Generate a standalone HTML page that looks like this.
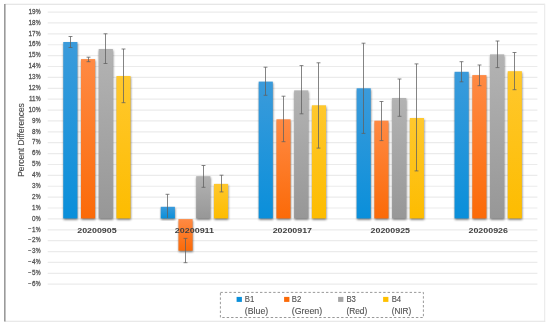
<!DOCTYPE html>
<html><head><meta charset="utf-8"><title>Percent Differences</title>
<style>
html,body{margin:0;padding:0;background:#fff;}
body{width:550px;height:327px;overflow:hidden;font-family:"Liberation Sans",sans-serif;}
svg{display:block}
text{font-family:"Liberation Sans",sans-serif;}
</style></head><body>
<svg width="550" height="327" viewBox="0 0 550 327">
<defs>
<linearGradient id="b" x1="0" y1="0" x2="0" y2="1"><stop offset="0" stop-color="#3b9bdb"/><stop offset="1" stop-color="#0a8fda"/></linearGradient>
<linearGradient id="o" x1="0" y1="0" x2="0" y2="1"><stop offset="0" stop-color="#ff8a44"/><stop offset="1" stop-color="#fb6a08"/></linearGradient>
<linearGradient id="g" x1="0" y1="0" x2="0" y2="1"><stop offset="0" stop-color="#b3b3b3"/><stop offset="1" stop-color="#979797"/></linearGradient>
<linearGradient id="y" x1="0" y1="0" x2="0" y2="1"><stop offset="0" stop-color="#ffc82e"/><stop offset="1" stop-color="#fdbc00"/></linearGradient>
<filter id="sh" x="-30%" y="-10%" width="160%" height="120%"><feGaussianBlur stdDeviation="0.8"/></filter>
</defs>
<rect x="0" y="0" width="550" height="327" fill="#fff"/>
<path d="M4.7 4.3H544.7" stroke="#dedede" stroke-width="1.1" fill="none"/>
<path d="M544.7 3.8V321.8" stroke="#e9e9e9" stroke-width="1.1" fill="none"/>
<path d="M4.7 321.3H545.2" stroke="#e2e2e2" stroke-width="1.1" fill="none"/>
<rect x="4" y="4" width="1.6" height="317.5" fill="#9a9a9a"/>

<line x1="47.7" x2="537.4" y1="284.21" y2="284.21" stroke="#ebebeb" stroke-width="1.2"/>
<line x1="47.7" x2="537.4" y1="273.32" y2="273.32" stroke="#ebebeb" stroke-width="1.2"/>
<line x1="47.7" x2="537.4" y1="262.44" y2="262.44" stroke="#ebebeb" stroke-width="1.2"/>
<line x1="47.7" x2="537.4" y1="251.56" y2="251.56" stroke="#ebebeb" stroke-width="1.2"/>
<line x1="47.7" x2="537.4" y1="240.67" y2="240.67" stroke="#ebebeb" stroke-width="1.2"/>
<line x1="47.7" x2="537.4" y1="229.78" y2="229.78" stroke="#ebebeb" stroke-width="1.2"/>
<line x1="47.7" x2="537.4" y1="218.90" y2="218.90" stroke="#ebebeb" stroke-width="1.2"/>
<line x1="47.7" x2="537.4" y1="208.02" y2="208.02" stroke="#ebebeb" stroke-width="1.2"/>
<line x1="47.7" x2="537.4" y1="197.13" y2="197.13" stroke="#ebebeb" stroke-width="1.2"/>
<line x1="47.7" x2="537.4" y1="186.25" y2="186.25" stroke="#ebebeb" stroke-width="1.2"/>
<line x1="47.7" x2="537.4" y1="175.36" y2="175.36" stroke="#ebebeb" stroke-width="1.2"/>
<line x1="47.7" x2="537.4" y1="164.48" y2="164.48" stroke="#ebebeb" stroke-width="1.2"/>
<line x1="47.7" x2="537.4" y1="153.59" y2="153.59" stroke="#ebebeb" stroke-width="1.2"/>
<line x1="47.7" x2="537.4" y1="142.71" y2="142.71" stroke="#ebebeb" stroke-width="1.2"/>
<line x1="47.7" x2="537.4" y1="131.82" y2="131.82" stroke="#ebebeb" stroke-width="1.2"/>
<line x1="47.7" x2="537.4" y1="120.94" y2="120.94" stroke="#ebebeb" stroke-width="1.2"/>
<line x1="47.7" x2="537.4" y1="110.05" y2="110.05" stroke="#ebebeb" stroke-width="1.2"/>
<line x1="47.7" x2="537.4" y1="99.17" y2="99.17" stroke="#ebebeb" stroke-width="1.2"/>
<line x1="47.7" x2="537.4" y1="88.28" y2="88.28" stroke="#ebebeb" stroke-width="1.2"/>
<line x1="47.7" x2="537.4" y1="77.40" y2="77.40" stroke="#ebebeb" stroke-width="1.2"/>
<line x1="47.7" x2="537.4" y1="66.51" y2="66.51" stroke="#ebebeb" stroke-width="1.2"/>
<line x1="47.7" x2="537.4" y1="55.62" y2="55.62" stroke="#ebebeb" stroke-width="1.2"/>
<line x1="47.7" x2="537.4" y1="44.74" y2="44.74" stroke="#ebebeb" stroke-width="1.2"/>
<line x1="47.7" x2="537.4" y1="33.86" y2="33.86" stroke="#ebebeb" stroke-width="1.2"/>
<line x1="47.7" x2="537.4" y1="22.97" y2="22.97" stroke="#ebebeb" stroke-width="1.2"/>
<line x1="47.7" x2="537.4" y1="12.09" y2="12.09" stroke="#ebebeb" stroke-width="1.2"/>
<text transform="translate(35.6,285.96) scale(0.92,1)" font-size="7" fill="#505050" stroke="#505050" stroke-width="0.25" text-anchor="end"><tspan font-size="5.6" dy="-1.1">–</tspan><tspan dx="0.9" dy="1.1">6</tspan></text>
<text transform="translate(40.5,285.96) scale(0.78,1)" font-size="7" fill="#505050" stroke="#505050" stroke-width="0.25" text-anchor="end">%</text>
<text transform="translate(35.6,275.07) scale(0.92,1)" font-size="7" fill="#505050" stroke="#505050" stroke-width="0.25" text-anchor="end"><tspan font-size="5.6" dy="-1.1">–</tspan><tspan dx="0.9" dy="1.1">5</tspan></text>
<text transform="translate(40.5,275.07) scale(0.78,1)" font-size="7" fill="#505050" stroke="#505050" stroke-width="0.25" text-anchor="end">%</text>
<text transform="translate(35.6,264.19) scale(0.92,1)" font-size="7" fill="#505050" stroke="#505050" stroke-width="0.25" text-anchor="end"><tspan font-size="5.6" dy="-1.1">–</tspan><tspan dx="0.9" dy="1.1">4</tspan></text>
<text transform="translate(40.5,264.19) scale(0.78,1)" font-size="7" fill="#505050" stroke="#505050" stroke-width="0.25" text-anchor="end">%</text>
<text transform="translate(35.6,253.31) scale(0.92,1)" font-size="7" fill="#505050" stroke="#505050" stroke-width="0.25" text-anchor="end"><tspan font-size="5.6" dy="-1.1">–</tspan><tspan dx="0.9" dy="1.1">3</tspan></text>
<text transform="translate(40.5,253.31) scale(0.78,1)" font-size="7" fill="#505050" stroke="#505050" stroke-width="0.25" text-anchor="end">%</text>
<text transform="translate(35.6,242.42) scale(0.92,1)" font-size="7" fill="#505050" stroke="#505050" stroke-width="0.25" text-anchor="end"><tspan font-size="5.6" dy="-1.1">–</tspan><tspan dx="0.9" dy="1.1">2</tspan></text>
<text transform="translate(40.5,242.42) scale(0.78,1)" font-size="7" fill="#505050" stroke="#505050" stroke-width="0.25" text-anchor="end">%</text>
<text transform="translate(35.6,231.53) scale(0.92,1)" font-size="7" fill="#505050" stroke="#505050" stroke-width="0.25" text-anchor="end"><tspan font-size="5.6" dy="-1.1">–</tspan><tspan dx="0.9" dy="1.1">1</tspan></text>
<text transform="translate(40.5,231.53) scale(0.78,1)" font-size="7" fill="#505050" stroke="#505050" stroke-width="0.25" text-anchor="end">%</text>
<text transform="translate(35.6,220.65) scale(0.92,1)" font-size="7" fill="#505050" stroke="#505050" stroke-width="0.25" text-anchor="end">0</text>
<text transform="translate(40.5,220.65) scale(0.78,1)" font-size="7" fill="#505050" stroke="#505050" stroke-width="0.25" text-anchor="end">%</text>
<text transform="translate(35.6,209.77) scale(0.92,1)" font-size="7" fill="#505050" stroke="#505050" stroke-width="0.25" text-anchor="end">1</text>
<text transform="translate(40.5,209.77) scale(0.78,1)" font-size="7" fill="#505050" stroke="#505050" stroke-width="0.25" text-anchor="end">%</text>
<text transform="translate(35.6,198.88) scale(0.92,1)" font-size="7" fill="#505050" stroke="#505050" stroke-width="0.25" text-anchor="end">2</text>
<text transform="translate(40.5,198.88) scale(0.78,1)" font-size="7" fill="#505050" stroke="#505050" stroke-width="0.25" text-anchor="end">%</text>
<text transform="translate(35.6,188.00) scale(0.92,1)" font-size="7" fill="#505050" stroke="#505050" stroke-width="0.25" text-anchor="end">3</text>
<text transform="translate(40.5,188.00) scale(0.78,1)" font-size="7" fill="#505050" stroke="#505050" stroke-width="0.25" text-anchor="end">%</text>
<text transform="translate(35.6,177.11) scale(0.92,1)" font-size="7" fill="#505050" stroke="#505050" stroke-width="0.25" text-anchor="end">4</text>
<text transform="translate(40.5,177.11) scale(0.78,1)" font-size="7" fill="#505050" stroke="#505050" stroke-width="0.25" text-anchor="end">%</text>
<text transform="translate(35.6,166.23) scale(0.92,1)" font-size="7" fill="#505050" stroke="#505050" stroke-width="0.25" text-anchor="end">5</text>
<text transform="translate(40.5,166.23) scale(0.78,1)" font-size="7" fill="#505050" stroke="#505050" stroke-width="0.25" text-anchor="end">%</text>
<text transform="translate(35.6,155.34) scale(0.92,1)" font-size="7" fill="#505050" stroke="#505050" stroke-width="0.25" text-anchor="end">6</text>
<text transform="translate(40.5,155.34) scale(0.78,1)" font-size="7" fill="#505050" stroke="#505050" stroke-width="0.25" text-anchor="end">%</text>
<text transform="translate(35.6,144.46) scale(0.92,1)" font-size="7" fill="#505050" stroke="#505050" stroke-width="0.25" text-anchor="end">7</text>
<text transform="translate(40.5,144.46) scale(0.78,1)" font-size="7" fill="#505050" stroke="#505050" stroke-width="0.25" text-anchor="end">%</text>
<text transform="translate(35.6,133.57) scale(0.92,1)" font-size="7" fill="#505050" stroke="#505050" stroke-width="0.25" text-anchor="end">8</text>
<text transform="translate(40.5,133.57) scale(0.78,1)" font-size="7" fill="#505050" stroke="#505050" stroke-width="0.25" text-anchor="end">%</text>
<text transform="translate(35.6,122.69) scale(0.92,1)" font-size="7" fill="#505050" stroke="#505050" stroke-width="0.25" text-anchor="end">9</text>
<text transform="translate(40.5,122.69) scale(0.78,1)" font-size="7" fill="#505050" stroke="#505050" stroke-width="0.25" text-anchor="end">%</text>
<text transform="translate(35.6,111.80) scale(0.92,1)" font-size="7" fill="#505050" stroke="#505050" stroke-width="0.25" text-anchor="end">10</text>
<text transform="translate(40.5,111.80) scale(0.78,1)" font-size="7" fill="#505050" stroke="#505050" stroke-width="0.25" text-anchor="end">%</text>
<text transform="translate(35.6,100.92) scale(0.92,1)" font-size="7" fill="#505050" stroke="#505050" stroke-width="0.25" text-anchor="end">11</text>
<text transform="translate(40.5,100.92) scale(0.78,1)" font-size="7" fill="#505050" stroke="#505050" stroke-width="0.25" text-anchor="end">%</text>
<text transform="translate(35.6,90.03) scale(0.92,1)" font-size="7" fill="#505050" stroke="#505050" stroke-width="0.25" text-anchor="end">12</text>
<text transform="translate(40.5,90.03) scale(0.78,1)" font-size="7" fill="#505050" stroke="#505050" stroke-width="0.25" text-anchor="end">%</text>
<text transform="translate(35.6,79.15) scale(0.92,1)" font-size="7" fill="#505050" stroke="#505050" stroke-width="0.25" text-anchor="end">13</text>
<text transform="translate(40.5,79.15) scale(0.78,1)" font-size="7" fill="#505050" stroke="#505050" stroke-width="0.25" text-anchor="end">%</text>
<text transform="translate(35.6,68.26) scale(0.92,1)" font-size="7" fill="#505050" stroke="#505050" stroke-width="0.25" text-anchor="end">14</text>
<text transform="translate(40.5,68.26) scale(0.78,1)" font-size="7" fill="#505050" stroke="#505050" stroke-width="0.25" text-anchor="end">%</text>
<text transform="translate(35.6,57.38) scale(0.92,1)" font-size="7" fill="#505050" stroke="#505050" stroke-width="0.25" text-anchor="end">15</text>
<text transform="translate(40.5,57.38) scale(0.78,1)" font-size="7" fill="#505050" stroke="#505050" stroke-width="0.25" text-anchor="end">%</text>
<text transform="translate(35.6,46.49) scale(0.92,1)" font-size="7" fill="#505050" stroke="#505050" stroke-width="0.25" text-anchor="end">16</text>
<text transform="translate(40.5,46.49) scale(0.78,1)" font-size="7" fill="#505050" stroke="#505050" stroke-width="0.25" text-anchor="end">%</text>
<text transform="translate(35.6,35.61) scale(0.92,1)" font-size="7" fill="#505050" stroke="#505050" stroke-width="0.25" text-anchor="end">17</text>
<text transform="translate(40.5,35.61) scale(0.78,1)" font-size="7" fill="#505050" stroke="#505050" stroke-width="0.25" text-anchor="end">%</text>
<text transform="translate(35.6,24.72) scale(0.92,1)" font-size="7" fill="#505050" stroke="#505050" stroke-width="0.25" text-anchor="end">18</text>
<text transform="translate(40.5,24.72) scale(0.78,1)" font-size="7" fill="#505050" stroke="#505050" stroke-width="0.25" text-anchor="end">%</text>
<text transform="translate(35.6,13.84) scale(0.92,1)" font-size="7" fill="#505050" stroke="#505050" stroke-width="0.25" text-anchor="end">19</text>
<text transform="translate(40.5,13.84) scale(0.78,1)" font-size="7" fill="#505050" stroke="#505050" stroke-width="0.25" text-anchor="end">%</text>
<text transform="translate(23.5,140) rotate(-90)" font-size="8.8" fill="#505050" stroke="#505050" stroke-width="0.15" text-anchor="middle" textLength="73.6" lengthAdjust="spacingAndGlyphs">Percent Differences</text>
<rect x="63.60" y="43.35" width="14.15" height="176.45" fill="#000" opacity="0.5" filter="url(#sh)"/>
<rect x="63.25" y="42.00" width="14.15" height="176.45" fill="url(#b)"/>
<rect x="81.33" y="60.45" width="14.15" height="159.35" fill="#000" opacity="0.5" filter="url(#sh)"/>
<rect x="80.98" y="59.10" width="14.15" height="159.35" fill="url(#o)"/>
<rect x="99.06" y="50.35" width="14.15" height="169.45" fill="#000" opacity="0.5" filter="url(#sh)"/>
<rect x="98.71" y="49.00" width="14.15" height="169.45" fill="url(#g)"/>
<rect x="116.79" y="77.35" width="14.15" height="142.45" fill="#000" opacity="0.5" filter="url(#sh)"/>
<rect x="116.44" y="76.00" width="14.15" height="142.45" fill="url(#y)"/>
<rect x="161.09" y="208.15" width="14.15" height="11.65" fill="#000" opacity="0.5" filter="url(#sh)"/>
<rect x="160.74" y="206.80" width="14.15" height="11.65" fill="url(#b)"/>
<rect x="178.82" y="220.45" width="14.15" height="31.60" fill="#000" opacity="0.5" filter="url(#sh)"/>
<rect x="178.47" y="219.10" width="14.15" height="31.60" fill="url(#o)"/>
<rect x="196.55" y="177.55" width="14.15" height="42.25" fill="#000" opacity="0.5" filter="url(#sh)"/>
<rect x="196.20" y="176.20" width="14.15" height="42.25" fill="url(#g)"/>
<rect x="214.28" y="185.25" width="14.15" height="34.55" fill="#000" opacity="0.5" filter="url(#sh)"/>
<rect x="213.93" y="183.90" width="14.15" height="34.55" fill="url(#y)"/>
<rect x="259.03" y="82.95" width="14.15" height="136.85" fill="#000" opacity="0.5" filter="url(#sh)"/>
<rect x="258.68" y="81.60" width="14.15" height="136.85" fill="url(#b)"/>
<rect x="276.76" y="120.65" width="14.15" height="99.15" fill="#000" opacity="0.5" filter="url(#sh)"/>
<rect x="276.41" y="119.30" width="14.15" height="99.15" fill="url(#o)"/>
<rect x="294.49" y="91.75" width="14.15" height="128.05" fill="#000" opacity="0.5" filter="url(#sh)"/>
<rect x="294.14" y="90.40" width="14.15" height="128.05" fill="url(#g)"/>
<rect x="312.22" y="106.65" width="14.15" height="113.15" fill="#000" opacity="0.5" filter="url(#sh)"/>
<rect x="311.87" y="105.30" width="14.15" height="113.15" fill="url(#y)"/>
<rect x="356.97" y="89.65" width="14.15" height="130.15" fill="#000" opacity="0.5" filter="url(#sh)"/>
<rect x="356.62" y="88.30" width="14.15" height="130.15" fill="url(#b)"/>
<rect x="374.70" y="122.05" width="14.15" height="97.75" fill="#000" opacity="0.5" filter="url(#sh)"/>
<rect x="374.35" y="120.70" width="14.15" height="97.75" fill="url(#o)"/>
<rect x="392.43" y="99.35" width="14.15" height="120.45" fill="#000" opacity="0.5" filter="url(#sh)"/>
<rect x="392.08" y="98.00" width="14.15" height="120.45" fill="url(#g)"/>
<rect x="410.16" y="119.35" width="14.15" height="100.45" fill="#000" opacity="0.5" filter="url(#sh)"/>
<rect x="409.81" y="118.00" width="14.15" height="100.45" fill="url(#y)"/>
<rect x="454.91" y="73.15" width="14.15" height="146.65" fill="#000" opacity="0.5" filter="url(#sh)"/>
<rect x="454.56" y="71.80" width="14.15" height="146.65" fill="url(#b)"/>
<rect x="472.64" y="76.45" width="14.15" height="143.35" fill="#000" opacity="0.5" filter="url(#sh)"/>
<rect x="472.29" y="75.10" width="14.15" height="143.35" fill="url(#o)"/>
<rect x="490.37" y="55.75" width="14.15" height="164.05" fill="#000" opacity="0.5" filter="url(#sh)"/>
<rect x="490.02" y="54.40" width="14.15" height="164.05" fill="url(#g)"/>
<rect x="508.10" y="72.55" width="14.15" height="147.25" fill="#000" opacity="0.5" filter="url(#sh)"/>
<rect x="507.75" y="71.20" width="14.15" height="147.25" fill="url(#y)"/>
<path d="M70.50 36.50V47.50M68.55 36.50h3.9M68.55 47.50h3.9" stroke="#606060" stroke-width="0.78" fill="none"/>
<path d="M88.50 57.20V61.70M86.55 57.20h3.9M86.55 61.70h3.9" stroke="#606060" stroke-width="0.78" fill="none"/>
<path d="M105.50 33.80V63.50M103.55 33.80h3.9M103.55 63.50h3.9" stroke="#606060" stroke-width="0.78" fill="none"/>
<path d="M123.50 49.00V102.70M121.55 49.00h3.9M121.55 102.70h3.9" stroke="#606060" stroke-width="0.78" fill="none"/>
<path d="M167.50 194.30V217.90M165.55 194.30h3.9" stroke="#606060" stroke-width="0.78" fill="none"/>
<path d="M185.50 238.40V262.70M183.55 238.40h3.9M183.55 262.70h3.9" stroke="#606060" stroke-width="0.78" fill="none"/>
<path d="M203.50 165.50V187.30M201.55 165.50h3.9M201.55 187.30h3.9" stroke="#606060" stroke-width="0.78" fill="none"/>
<path d="M221.50 175.20V191.90M219.55 175.20h3.9M219.55 191.90h3.9" stroke="#606060" stroke-width="0.78" fill="none"/>
<path d="M265.50 67.20V95.30M263.55 67.20h3.9M263.55 95.30h3.9" stroke="#606060" stroke-width="0.78" fill="none"/>
<path d="M283.50 96.20V141.70M281.55 96.20h3.9M281.55 141.70h3.9" stroke="#606060" stroke-width="0.78" fill="none"/>
<path d="M301.50 65.60V113.80M299.55 65.60h3.9M299.55 113.80h3.9" stroke="#606060" stroke-width="0.78" fill="none"/>
<path d="M318.50 62.80V148.10M316.55 62.80h3.9M316.55 148.10h3.9" stroke="#606060" stroke-width="0.78" fill="none"/>
<path d="M363.50 43.20V133.40M361.55 43.20h3.9M361.55 133.40h3.9" stroke="#606060" stroke-width="0.78" fill="none"/>
<path d="M381.50 101.50V140.60M379.55 101.50h3.9M379.55 140.60h3.9" stroke="#606060" stroke-width="0.78" fill="none"/>
<path d="M399.50 79.00V116.30M397.55 79.00h3.9M397.55 116.30h3.9" stroke="#606060" stroke-width="0.78" fill="none"/>
<path d="M416.50 63.90V170.90M414.55 63.90h3.9M414.55 170.90h3.9" stroke="#606060" stroke-width="0.78" fill="none"/>
<path d="M461.50 61.70V81.80M459.55 61.70h3.9M459.55 81.80h3.9" stroke="#606060" stroke-width="0.78" fill="none"/>
<path d="M479.50 65.00V85.70M477.55 65.00h3.9M477.55 85.70h3.9" stroke="#606060" stroke-width="0.78" fill="none"/>
<path d="M497.50 41.00V67.60M495.55 41.00h3.9M495.55 67.60h3.9" stroke="#606060" stroke-width="0.78" fill="none"/>
<path d="M514.50 52.50V89.70M512.55 52.50h3.9M512.55 89.70h3.9" stroke="#606060" stroke-width="0.78" fill="none"/>
<text x="96.92" y="233.2" font-size="8" font-weight="bold" fill="#404040" text-anchor="middle" textLength="39.4" lengthAdjust="spacingAndGlyphs">20200905</text>
<text x="194.41" y="233.2" font-size="8" font-weight="bold" fill="#404040" text-anchor="middle" textLength="39.4" lengthAdjust="spacingAndGlyphs">20200911</text>
<text x="292.35" y="233.2" font-size="8" font-weight="bold" fill="#404040" text-anchor="middle" textLength="39.4" lengthAdjust="spacingAndGlyphs">20200917</text>
<text x="390.29" y="233.2" font-size="8" font-weight="bold" fill="#404040" text-anchor="middle" textLength="39.4" lengthAdjust="spacingAndGlyphs">20200925</text>
<text x="488.23" y="233.2" font-size="8" font-weight="bold" fill="#404040" text-anchor="middle" textLength="39.4" lengthAdjust="spacingAndGlyphs">20200926</text>
<rect x="220.4" y="292.4" width="203" height="25.1" fill="none" stroke="#7f7f7f" stroke-width="0.8" stroke-dasharray="2.4 2"/>
<rect x="236.6" y="296.9" width="5.3" height="5" fill="#0a8fda"/>
<text x="244.8" y="301.8" font-size="8.7" fill="#505050" stroke="#505050" stroke-width="0.12" textLength="9.5" lengthAdjust="spacingAndGlyphs">B1</text>
<text x="244.8" y="313.8" font-size="8.7" fill="#505050" stroke="#505050" stroke-width="0.12" textLength="23.4" lengthAdjust="spacingAndGlyphs">(Blue)</text>
<rect x="284.1" y="296.9" width="5.3" height="5" fill="#fb6a08"/>
<text x="291.8" y="301.8" font-size="8.7" fill="#505050" stroke="#505050" stroke-width="0.12" textLength="9.5" lengthAdjust="spacingAndGlyphs">B2</text>
<text x="291.8" y="313.8" font-size="8.7" fill="#505050" stroke="#505050" stroke-width="0.12" textLength="30.4" lengthAdjust="spacingAndGlyphs">(Green)</text>
<rect x="338.1" y="296.9" width="5.3" height="5" fill="#a5a5a5"/>
<text x="346.4" y="301.8" font-size="8.7" fill="#505050" stroke="#505050" stroke-width="0.12" textLength="9.5" lengthAdjust="spacingAndGlyphs">B3</text>
<text x="346.4" y="313.8" font-size="8.7" fill="#505050" stroke="#505050" stroke-width="0.12" textLength="20.8" lengthAdjust="spacingAndGlyphs">(Red)</text>
<rect x="383.1" y="296.9" width="5.3" height="5" fill="#ffc000"/>
<text x="391.7" y="301.8" font-size="8.7" fill="#505050" stroke="#505050" stroke-width="0.12" textLength="9.5" lengthAdjust="spacingAndGlyphs">B4</text>
<text x="391.7" y="313.8" font-size="8.7" fill="#505050" stroke="#505050" stroke-width="0.12" textLength="19.5" lengthAdjust="spacingAndGlyphs">(NIR)</text>
</svg></body></html>
